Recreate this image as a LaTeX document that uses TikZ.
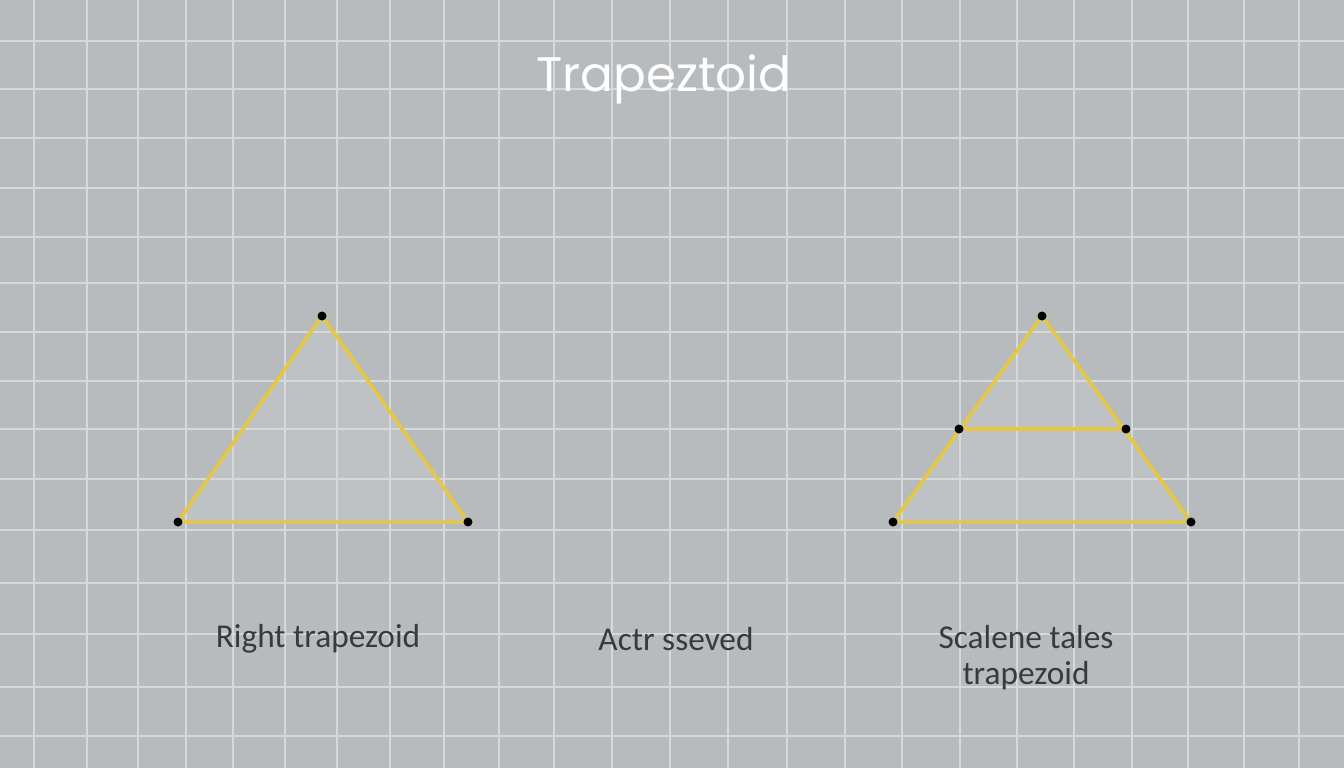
\documentclass[tikz,border=0pt]{standalone}
\usepackage{fontspec}
\newfontfamily\titlefont{Poppins}
\newfontfamily\labelfont{Carlito}
\definecolor{bgc}{RGB}{184,187,190}
\definecolor{gridc}{RGB}{214,217,220}
\definecolor{fillc}{RGB}{191,194,197}
\definecolor{yel}{RGB}{230,200,64}
\definecolor{txt}{RGB}{55,58,62}
\tikzset{
  gridline/.style={draw=gridc, line width=1pt},
  edge/.style={draw=yel, line width=2.6pt, line cap=round, line join=round},
  vdot/.style={fill=black},
  lbl/.style={text=txt, font=\labelfont\fontsize{25}{27}\selectfont, align=center},
  ttl/.style={text=white, font=\titlefont\fontsize{36.3}{42}\selectfont}
}
\begin{document}
\begin{tikzpicture}[x=0.75pt,y=-0.75pt]
\fill[bgc] (0,0) rectangle (1344,768);
\useasboundingbox (0,0) rectangle (1344,768);
% vertices
\coordinate (A1) at (322,316);
\coordinate (B1) at (178,522);
\coordinate (C1) at (468,522);
\coordinate (A2) at (1042,316);
\coordinate (B2) at (893,522);
\coordinate (C2) at (1191,522);
\coordinate (D2) at (959,429);
\coordinate (E2) at (1126,429);
% faint fills
\fill[fillc] (A1) -- (B1) -- (C1) -- cycle;
\fill[fillc] (A2) -- (B2) -- (C2) -- cycle;
% grid
\foreach \x in {34,87,138,186,233,285,337,390,444,499,554,612,670,728,787,845,902,960,1017,1074,1132,1188,1244,1299}
  \draw[gridline] (\x,0) -- (\x,768);
\foreach \y in {41,89,138,188,237,283,332,381,429,479,530,583,634,687,736}
  \draw[gridline] (0,\y) -- (1344,\y);
% triangles
\draw[edge] (A1) -- (B1) -- (C1) -- cycle;
\draw[edge] (A2) -- (B2) -- (C2) -- cycle;
\draw[edge] (D2) -- (E2);
\foreach \p in {A1,B1,C1,A2,B2,C2,D2,E2}
  \fill[vdot] (\p) circle (4.5);
% texts
\node[ttl] (title) at (664,79) {Trapeztoid};
\node[lbl] (l1) at (318,639) {Right trapezoid};
\node[lbl] (l2) at (676,639) {Actr sseved};
\node[lbl] (l3) at (1026,658) {Scalene tales\\trapezoid};
\end{tikzpicture}
\end{document}
